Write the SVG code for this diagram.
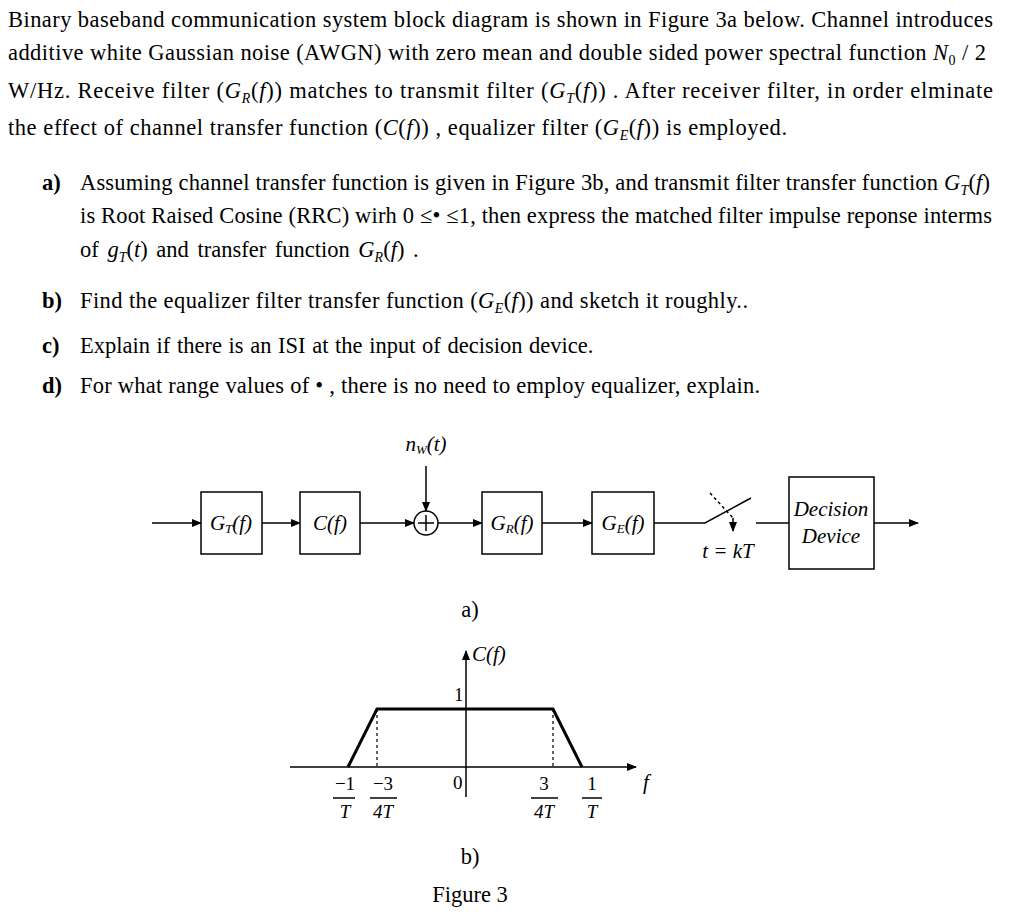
<svg xmlns="http://www.w3.org/2000/svg" width="1024" height="921" viewBox="0 0 1024 921">
<style>
text{font-family:"Liberation Serif","Times New Roman",serif;font-size:22.5px;fill:#000}
.i{font-style:italic}
.s{font-size:14px}
.b{font-weight:bold}
.m{font-family:"Liberation Serif","Times New Roman",serif;font-style:italic;font-size:21px}
.bx{fill:#fff;stroke:#000;stroke-width:1.5}
.ln{stroke:#000;stroke-width:1.5;fill:none}
.pl{stroke:#000;stroke-width:3;fill:none}
.n{font-size:19px}
</style>
<defs><marker id="ah" markerWidth="10" markerHeight="8" refX="9" refY="4" orient="auto" markerUnits="userSpaceOnUse"><path d="M0,0 L10,4 L0,8 z" fill="#000"/></marker></defs>
<rect width="1024" height="921" fill="#fff"/>
<g id="problem-text">
<text x="8" y="27" textLength="985" lengthAdjust="spacing">Binary baseband communication system block diagram is shown in Figure 3a below. Channel introduces</text>
<text x="8" y="60" textLength="978" lengthAdjust="spacing">additive white Gaussian noise (AWGN)  with zero mean and double sided power spectral function  <tspan class="i">N</tspan><tspan class="s" dy="5">0</tspan><tspan dy="-5"> / 2</tspan></text>
<text x="8" y="98" textLength="985" lengthAdjust="spacing">W/Hz. Receive filter  (<tspan class="i">G</tspan><tspan class="s i" dy="5">R</tspan><tspan dy="-5">(</tspan><tspan class="i">f</tspan>)) matches to  transmit filter (<tspan class="i">G</tspan><tspan class="s i" dy="5">T</tspan><tspan dy="-5">(</tspan><tspan class="i">f</tspan>)) . After receiver filter, in order elminate</text>
<text x="8" y="135" textLength="779" lengthAdjust="spacing">the effect of channel transfer function (<tspan class="i">C</tspan>(<tspan class="i">f</tspan>)) , equalizer filter (<tspan class="i">G</tspan><tspan class="s i" dy="5">E</tspan><tspan dy="-5">(</tspan><tspan class="i">f</tspan>)) is employed.</text>
<text x="42" y="190" class="b">a)</text>
<text x="80" y="190" textLength="910" lengthAdjust="spacing">Assuming channel transfer function is given in Figure 3b,  and transmit filter transfer function  <tspan class="i">G</tspan><tspan class="s i" dy="5">T</tspan><tspan dy="-5">(</tspan><tspan class="i">f</tspan>)</text>
<text x="80" y="223" textLength="912" lengthAdjust="spacing">is Root Raised Cosine  (RRC) wirh  0 ≤•  ≤1, then express the matched filter impulse reponse interms</text>
<text x="80" y="257" word-spacing="3">of  <tspan class="i">g</tspan><tspan class="s i" dy="5">T</tspan><tspan dy="-5">(</tspan><tspan class="i">t</tspan>)  and  transfer function  <tspan class="i">G</tspan><tspan class="s i" dy="5">R</tspan><tspan dy="-5">(</tspan><tspan class="i">f</tspan>) .</text>
<text x="42" y="308" class="b">b)</text>
<text x="80" y="308" textLength="668" lengthAdjust="spacing">Find the equalizer filter transfer function (<tspan class="i">G</tspan><tspan class="s i" dy="5">E</tspan><tspan dy="-5">(</tspan><tspan class="i">f</tspan>)) and sketch it roughly..</text>
<text x="42" y="353" class="b">c)</text>
<text x="80" y="353" word-spacing="1">Explain if  there is an ISI at the input of decision device.</text>
<text x="42" y="393" class="b">d)</text>
<text x="80" y="393" textLength="680" lengthAdjust="spacing">For what range values of •   , there is no need  to employ equalizer, explain.</text>
</g>
<g id="connectors">
<line class="ln" x1="152" y1="523" x2="201" y2="523" marker-end="url(#ah)"/>
<line class="ln" x1="262" y1="523" x2="300" y2="523" marker-end="url(#ah)"/>
<line class="ln" x1="360" y1="523" x2="414" y2="523" marker-end="url(#ah)"/>
<line class="ln" x1="426" y1="466" x2="426" y2="511" marker-end="url(#ah)"/>
<line class="ln" x1="438" y1="523" x2="482" y2="523" marker-end="url(#ah)"/>
<line class="ln" x1="542" y1="523" x2="592" y2="523" marker-end="url(#ah)"/>
<polyline class="ln" points="654,523 705,523 751,498"/>
<line class="ln" x1="710" y1="493" x2="733" y2="518" stroke-dasharray="3,3"/>
<line class="ln" x1="733" y1="518" x2="733" y2="531" marker-end="url(#ah)"/>
<line class="ln" x1="756" y1="523" x2="789" y2="523"/>
<line class="ln" x1="874" y1="523" x2="918" y2="523" marker-end="url(#ah)"/>
</g>
<g id="noise"><text x="426" y="451" class="m" text-anchor="middle">n<tspan font-size="13" dy="3">W</tspan><tspan dy="-3">(t)</tspan></text></g>
<g id="gt"><rect class="bx" x="201" y="492" width="61" height="62"/><text x="231" y="530" class="m" text-anchor="middle">G<tspan font-size="13" dy="3">T</tspan><tspan dy="-3">(f)</tspan></text></g>
<g id="cf"><rect class="bx" x="300" y="492" width="60" height="62"/><text x="330" y="530" class="m" text-anchor="middle">C(f)</text></g>
<g id="sum"><circle class="bx" cx="426" cy="523" r="12"/><line class="ln" x1="418" y1="523" x2="434" y2="523"/><line class="ln" x1="426" y1="515" x2="426" y2="531"/></g>
<g id="gr"><rect class="bx" x="482" y="492" width="60" height="62"/><text x="512" y="530" class="m" text-anchor="middle">G<tspan font-size="13" dy="3">R</tspan><tspan dy="-3">(f)</tspan></text></g>
<g id="ge"><rect class="bx" x="592" y="492" width="62" height="62"/><text x="623" y="530" class="m" text-anchor="middle">G<tspan font-size="13" dy="3">E</tspan><tspan dy="-3">(f)</tspan></text></g>
<g id="sampler"><text x="728" y="558" class="m" text-anchor="middle">t = kT</text></g>
<g id="decision"><rect class="bx" x="789" y="477" width="85" height="92"/><text x="831" y="516" class="m" text-anchor="middle">Decision</text><text x="831" y="543" class="m" text-anchor="middle">Device</text></g>
<text x="470" y="617" text-anchor="middle">a)</text>
<g id="plot">
<line class="ln" x1="290" y1="767" x2="636" y2="767" marker-end="url(#ah)"/>
<line class="ln" x1="466" y1="797" x2="466" y2="651" marker-end="url(#ah)"/>
<polyline class="pl" points="348,767 377,709 553,709 582,767"/>
<line x1="377" y1="709" x2="377" y2="767" stroke="#000" stroke-width="1.2" stroke-dasharray="3,3"/>
<line x1="553" y1="709" x2="553" y2="767" stroke="#000" stroke-width="1.2" stroke-dasharray="3,3"/>
<text x="472" y="661" class="m">C(f)</text>
<text x="454" y="701" class="n">1</text>
<text x="453" y="789" class="n">0</text>
<text x="643" y="789" class="m">f</text>
<g text-anchor="middle">
<text x="345" y="790" class="n">−1</text><line class="ln" x1="333" y1="798" x2="355" y2="798"/><text x="345" y="818" class="n i">T</text>
<text x="383" y="790" class="n">−3</text><line class="ln" x1="370" y1="798" x2="397" y2="798"/><text x="383" y="818" class="n i">4T</text>
<text x="544" y="790" class="n">3</text><line class="ln" x1="531" y1="798" x2="558" y2="798"/><text x="544" y="818" class="n i">4T</text>
<text x="592" y="790" class="n">1</text><line class="ln" x1="582" y1="798" x2="602" y2="798"/><text x="592" y="818" class="n i">T</text>
</g>
</g>
<text x="470" y="864" text-anchor="middle">b)</text>
<text x="470" y="902" text-anchor="middle">Figure 3</text>
</svg>
